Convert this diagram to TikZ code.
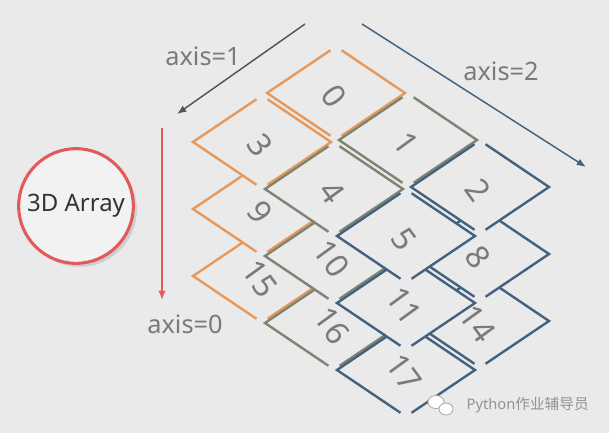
\documentclass[tikz,border=0pt]{standalone}
\usepackage{fontspec}
\setmainfont{Noto Sans}
\newfontfamily\cjkfont{Noto Sans CJK SC}
\usetikzlibrary{calc,arrows.meta,shadows}

\definecolor{bgcol}{HTML}{EAEAEA}
\definecolor{org}{HTML}{E8995A}
\definecolor{grn}{HTML}{7F8472}
\definecolor{blu}{HTML}{44627F}
\definecolor{numcol}{HTML}{7A7A7A}
\definecolor{ringred}{HTML}{E25A5A}
\definecolor{darkarr}{HTML}{555555}

\tikzset{
	card/.style={fill=bgcol, draw=none},
	cardedge/.style={line width=1.8pt, line join=miter},
	num/.style={text=numcol, inner sep=0pt, font=\fontsize{24}{26}\selectfont, rotate=-54},
	axislabel/.style={text=numcol, font=\fontsize{19}{21}\selectfont},
	axisarrow/.style={line width=1.1pt, -{Latex[length=7pt,width=5.5pt]}}
}

\begin{document}
\begin{tikzpicture}[x=0.75pt,y=-0.75pt]
	\fill[bgcol] (0,0) rectangle (609,433);
	\useasboundingbox (0,0) rectangle (609,433);

	% cards, back layer first
	\foreach \i/\j/\k/\col in {2/0/2/blu,2/1/0/org,2/1/1/grn,2/1/2/blu,
		1/0/2/blu,1/1/0/org,1/1/1/grn,1/1/2/blu,
		0/0/0/org,0/0/1/grn,0/0/2/blu,0/1/0/org,0/1/1/grn,0/1/2/blu}{
		\pgfmathtruncatemacro{\n}{6*\i+3*\j+\k}
		\pgfmathsetmacro{\x}{267+72*\k-74*\j}
		\pgfmathsetmacro{\y}{93+47*\k+49*\j+67*\i}
		\coordinate (L\n) at (\x,\y);
		\coordinate (T\n) at (\x+69,\y-46.5);
		\coordinate (R\n) at (\x+138,\y);
		\coordinate (B\n) at (\x+69,\y+46.5);
		\fill[card] (L\n) -- (T\n) -- (R\n) -- (B\n) -- cycle;
		\draw[cardedge, \col] ($(L\n)!0.92!(T\n)$) -- (L\n) -- ($(L\n)!0.92!(B\n)$);
		\draw[cardedge, \col] ($(R\n)!0.92!(T\n)$) -- (R\n) -- ($(R\n)!0.92!(B\n)$);
		\node[num] (c\n) at (\x+67,\y+3) {\n};
	}

	% axes
	\coordinate (a0s) at (162,128);
	\coordinate (a0e) at (162,300);
	\coordinate (a1s) at (305,24);
	\coordinate (a1e) at (177,114);
	\coordinate (a2s) at (362,24);
	\coordinate (a2e) at (586,167);
	\draw[axisarrow, ringred] (a0s) -- (a0e);
	\draw[axisarrow, darkarr] (a1s) -- (a1e);
	\draw[axisarrow, blu] (a2s) -- (a2e);
	\node[axislabel] (ax0) at (185,324) {axis=0};
	\node[axislabel] (ax1) at (203,56) {axis=1};
	\node[axislabel] (ax2) at (501,71) {axis=2};

	% title circle
	\node[circle, draw=ringred, line width=2.3pt, fill=black!5,
		minimum size=86pt, drop shadow={opacity=0.25},
		text=black!80, font=\fontsize{18}{20}\selectfont] (arr) at (76,206) {3D Array};

	% watermark
	\draw[gray!70, fill=white, line width=0.6pt] (436,402) ellipse (8 and 6.5);
	\draw[gray!70, fill=white, line width=0.6pt] (446,409) ellipse (7 and 6);
	\node[text=gray!85, font=\fontsize{11}{12}\selectfont, anchor=west] (wm) at (462,405) {Python{\cjkfont 作业辅导员}};
\end{tikzpicture}
\end{document}
